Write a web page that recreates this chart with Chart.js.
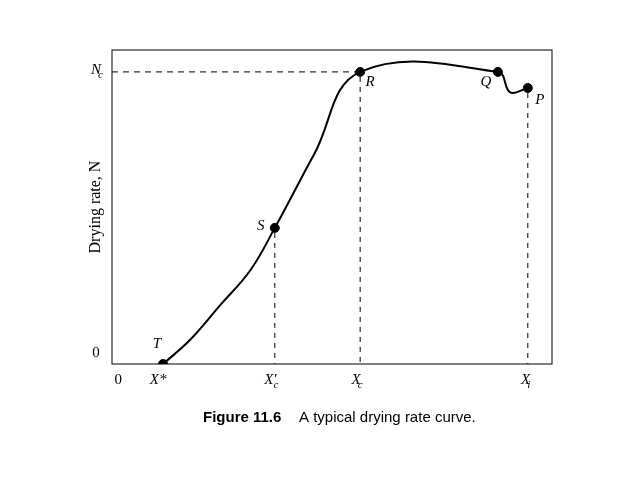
<!DOCTYPE html>
<html>
<head>
<script src="https://cdn.jsdelivr.net/npm/chart.js@4"></script>
<style>
 body { margin: 0; background: #fff; }
 #wrap { width: 638px; height: 478px; }
</style>
</head>
<body>
<div id="wrap"><canvas id="myChart"></canvas></div>
<script>
// moisture content X (arbitrary units) and drying rate N (fraction of Nc)
let curveX = [1.16, 1.77, 2.45, 3.14, 3.7, 4.6, 5.64, 8.77, 9.05, 9.45];
let curveN = [0, 0.082, 0.2, 0.32, 0.466, 0.72, 1, 1, 0.93, 0.945];

// named points on the curve
let pointNames = ["T", "S", "R", "Q", "P"];
let pointX = [1.16, 3.7, 5.64, 8.77, 9.45];
let pointN = [0, 0.466, 1, 1, 0.945];

// x tick labels: [text, subscript, value]
let xTicks = [["0", "", 0.14], ["X*", "", 1.05], ["X′", "c", 3.6], ["X", "c", 5.55], ["X", "i", 9.4]];
let yTicks = [["N", "c", 1], ["0", "", 0.03]];

const serif = '"Liberation Serif", "DejaVu Serif", serif';

const decorations = {
 id: 'decorations',
 afterDraw(chart) {
  const ctx = chart.ctx;
  const a = chart.chartArea;
  const xs = chart.scales.x, ys = chart.scales.y;
  ctx.save();
  ctx.strokeStyle = '#000';
  ctx.lineWidth = 1;
  ctx.strokeRect(a.left, a.top, a.right - a.left, a.bottom - a.top);

  // dashed guide lines
  ctx.setLineDash([6, 5]);
  let yNc = ys.getPixelForValue(1);
  ctx.beginPath();
  ctx.moveTo(a.left, yNc);
  ctx.lineTo(xs.getPixelForValue(pointX[2]), yNc);
  ctx.stroke();
  ctx.setLineDash([5, 5]);
  for (let i of [1, 2, 4]) {
   ctx.beginPath();
   ctx.moveTo(xs.getPixelForValue(pointX[i]), ys.getPixelForValue(pointN[i]) + 5);
   ctx.lineTo(xs.getPixelForValue(pointX[i]), a.bottom);
   ctx.stroke();
  }
  ctx.setLineDash([]);

  // point labels
  ctx.fillStyle = '#000';
  ctx.font = 'italic 15px ' + serif;
  let offs = [[-6, -16], [-14, 2], [10, 14], [-12, 14], [12, 16]];
  for (let i = 0; i < pointNames.length; i++) {
   ctx.textAlign = 'center';
   ctx.fillText(pointNames[i], xs.getPixelForValue(pointX[i]) + offs[i][0], ys.getPixelForValue(pointN[i]) + offs[i][1]);
  }

  function sub(text, s, x, y) {
   ctx.font = (text === '0' ? '' : 'italic ') + '15px ' + serif;
   ctx.textAlign = 'left';
   let w = ctx.measureText(text).width;
   ctx.fillText(text, x - w / 2, y);
   if (s) {
    ctx.font = 'italic 11px ' + serif;
    ctx.fillText(s, x + w / 2 - 3, y + 4);
   }
  }
  for (let t of xTicks) sub(t[0], t[1], xs.getPixelForValue(t[2]), a.bottom + 20);
  for (let t of yTicks) sub(t[0], t[1], a.left - 16, ys.getPixelForValue(t[2]) + 2);

  // axis title
  ctx.save();
  ctx.translate(100, 207);
  ctx.rotate(-Math.PI / 2);
  ctx.font = '16px ' + serif;
  ctx.textAlign = 'center';
  ctx.fillText('Drying rate, N', 0, 0);
  ctx.restore();

  // caption
  ctx.font = 'bold 15px "Liberation Sans Narrow", "Liberation Sans", sans-serif';
  ctx.textAlign = 'left';
  ctx.fillText('Figure 11.6', 203, 422);
  ctx.font = '15px "Liberation Sans Narrow", "Liberation Sans", sans-serif';
  ctx.fillText('A typical drying rate curve.', 299, 422);
  ctx.restore();
 }
};

new Chart(document.getElementById('myChart').getContext('2d'), {
 type: 'scatter',
 data: {
  datasets: [{
   data: curveX.map((x, i) => ({ x: x, y: curveN[i] })),
   showLine: true,
   tension: 0.4,
   borderColor: '#000',
   borderWidth: 2,
   pointRadius: 0
  }, {
   data: pointX.map((x, i) => ({ x: x, y: pointN[i] })),
   showLine: false,
   pointRadius: 4.5,
   backgroundColor: '#000',
   borderColor: '#000'
  }]
 },
 options: {
  responsive: true,
  maintainAspectRatio: false,
  animation: false,
  layout: { padding: { left: 112, top: 50, right: 86, bottom: 114 } },
  plugins: { legend: { display: false }, tooltip: { enabled: false } },
  scales: {
   x: { type: 'linear', min: 0, max: 10, display: false },
   y: { type: 'linear', min: 0, max: 1.075, display: false }
  }
 },
 plugins: [decorations]
});
</script>
</body>
</html>
